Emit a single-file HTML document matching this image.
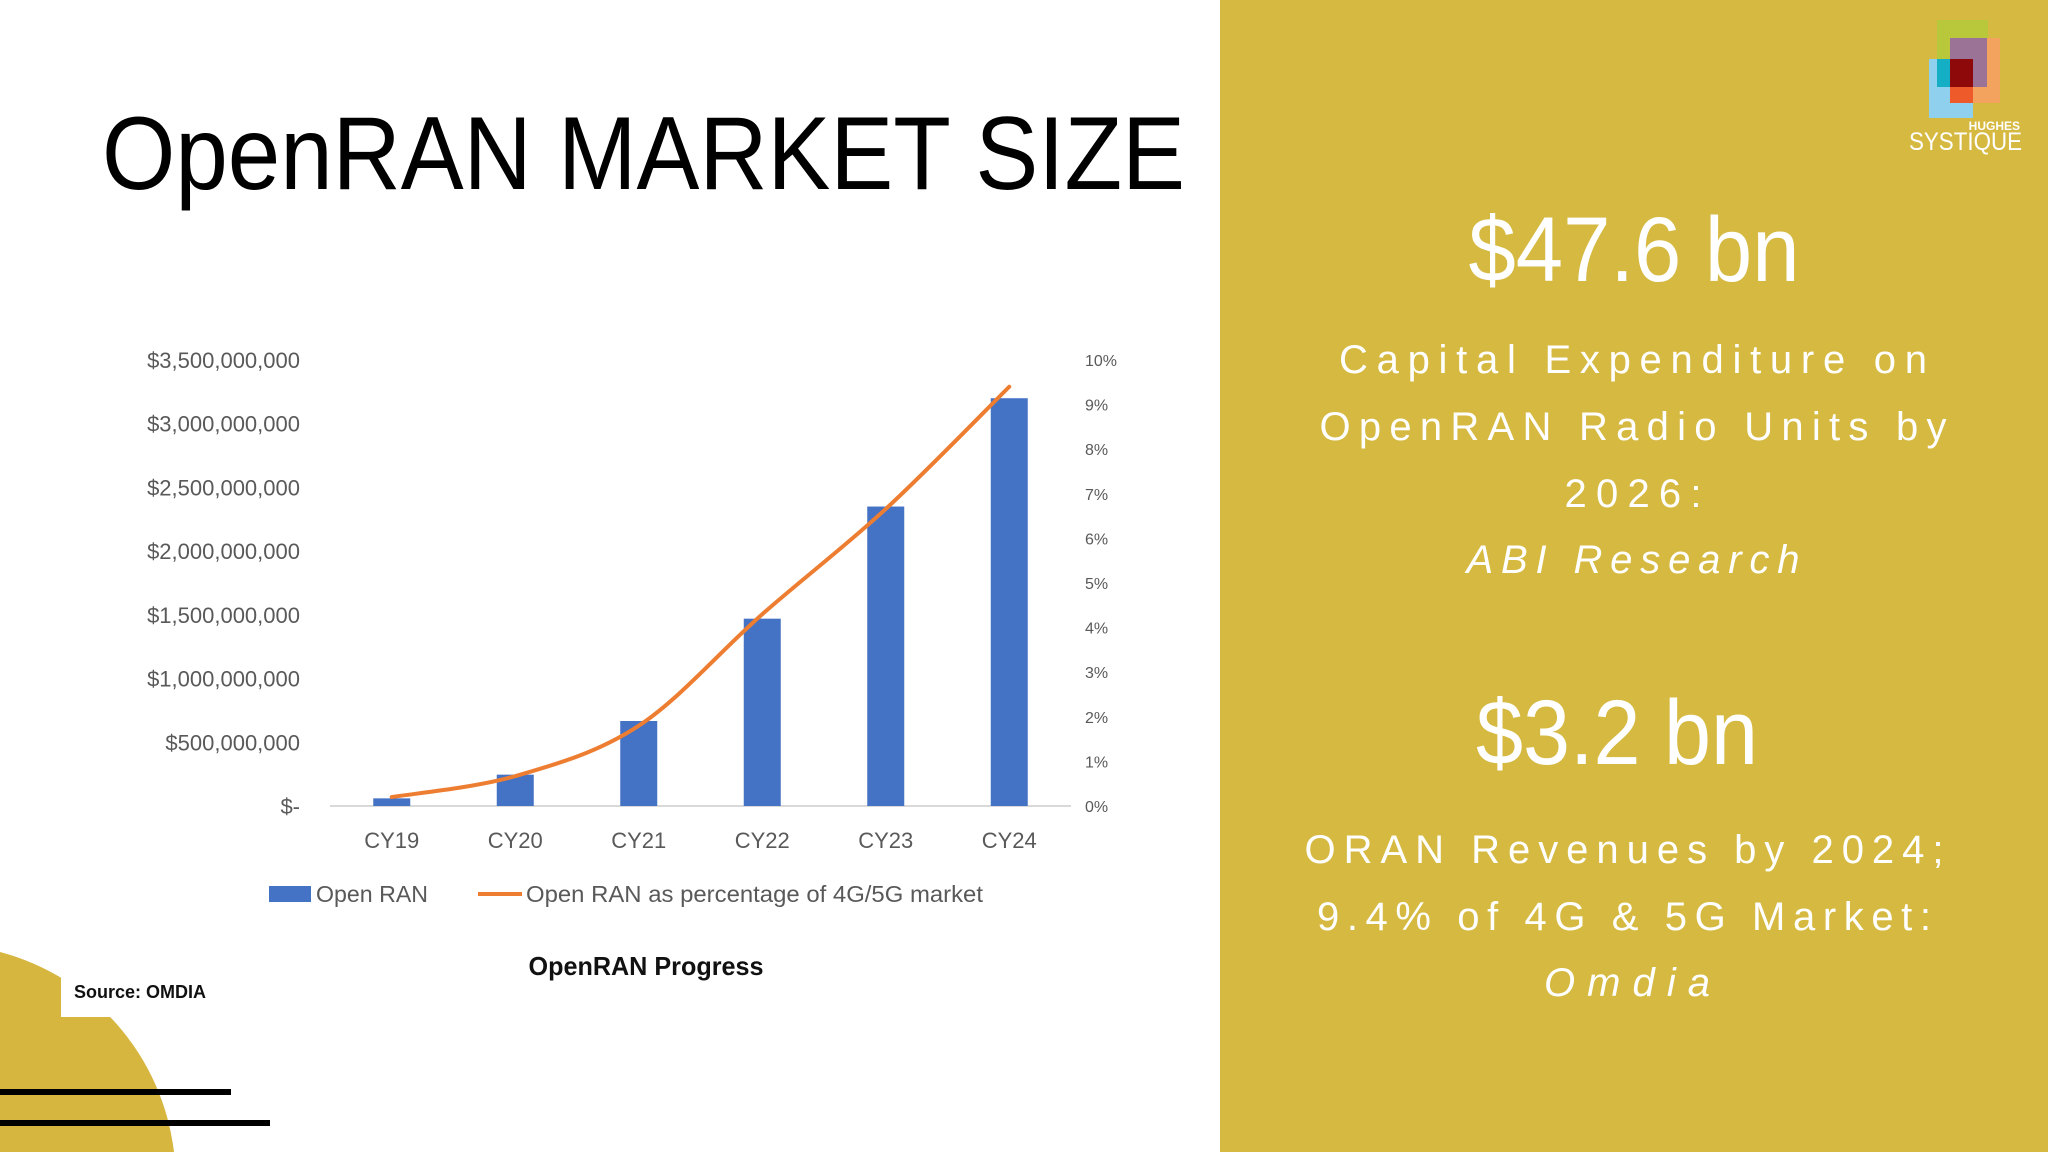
<!DOCTYPE html>
<html><head><meta charset="utf-8"><title>OpenRAN Market Size</title>
<style>
html,body{margin:0;padding:0;background:#fff;width:2048px;height:1152px;overflow:hidden;}
svg{display:block;font-family:"Liberation Sans",sans-serif;}
</style></head>
<body>
<svg id="slide" width="2048" height="1152" viewBox="0 0 2048 1152" xmlns="http://www.w3.org/2000/svg">
  <rect x="0" y="0" width="2048" height="1152" fill="#ffffff"/>
  <text x="102" y="189" font-size="104" fill="#000" textLength="1083" lengthAdjust="spacingAndGlyphs">OpenRAN MARKET SIZE</text>

  <g>
    <path d="M0,952 A236,236 0 0 1 174,1152 L0,1152 Z" fill="#D6B63F"/>
    <rect x="61" y="910" width="200" height="107" fill="#fff"/>
    <text x="74" y="998" font-size="18" font-weight="bold" fill="#111">Source: OMDIA</text>
    <rect x="0" y="1089" width="231" height="6" fill="#000"/>
    <rect x="0" y="1120" width="270" height="6" fill="#000"/>
  </g>

  <g id="chart"></g>

  <rect x="1220" y="0" width="828" height="1152" fill="#D6B940"/>
  <g>
    <rect x="1937" y="20" width="51" height="47" fill="#B9C83A"/>
    <rect x="1929" y="59" width="44" height="59" fill="#8FD0EE"/>
    <rect x="1973" y="38" width="27" height="65" fill="#F4A35E"/>
    <rect x="1950" y="38" width="37" height="49" fill="#9B7396"/>
    <rect x="1937" y="59" width="13" height="28" fill="#14AFC4"/>
    <rect x="1950" y="59" width="23" height="28" fill="#8E0A0A"/>
    <rect x="1950" y="87" width="23" height="16" fill="#EE5A2A"/>
    <text x="2020" y="130" font-size="12" font-weight="bold" fill="#fff" text-anchor="end">HUGHES</text>
    <text x="1909" y="150" font-size="25" fill="#fff" textLength="113" lengthAdjust="spacingAndGlyphs">SYSTIQUE</text>
  </g>
  <g fill="#fff" text-anchor="middle">
    <text x="1634" y="281" font-size="92" textLength="331" lengthAdjust="spacingAndGlyphs">$47.6 bn</text>
    <text x="1633" y="373" font-size="40" textLength="588" lengthAdjust="spacing">Capital Expenditure on</text>
    <text x="1633" y="440" font-size="40" textLength="627" lengthAdjust="spacing">OpenRAN Radio Units by</text>
    <text x="1633" y="507" font-size="40" textLength="137" lengthAdjust="spacing">2026:</text>
    <text x="1633" y="573" font-size="40" font-style="italic" textLength="333" lengthAdjust="spacing">ABI Research</text>
    <text x="1617" y="764" font-size="92" textLength="282" lengthAdjust="spacingAndGlyphs">$3.2 bn</text>
    <text x="1624" y="863" font-size="40" textLength="639" lengthAdjust="spacing">ORAN Revenues by 2024;</text>
    <text x="1624" y="930" font-size="40" textLength="614" lengthAdjust="spacing">9.4% of 4G &amp; 5G Market:</text>
    <text x="1627" y="996" font-size="40" font-style="italic" textLength="166" lengthAdjust="spacing">Omdia</text>
  </g>
</svg>
<script>
const categories = ["CY19","CY20","CY21","CY22","CY23","CY24"];
const revenue = [60e6, 246e6, 667e6, 1470e6, 2350e6, 3200e6];
const percentShare = [0.2, 0.67, 1.8, 4.3, 6.66, 9.4];
const leftTicks = [0, 500e6, 1000e6, 1500e6, 2000e6, 2500e6, 3000e6, 3500e6];
const leftTickLabels = ["$-","$500,000,000","$1,000,000,000","$1,500,000,000","$2,000,000,000","$2,500,000,000","$3,000,000,000","$3,500,000,000"];
const rightTicks = [0,1,2,3,4,5,6,7,8,9,10];

const NS = "http://www.w3.org/2000/svg";
const g = document.getElementById('chart');
const X0 = 330, X1 = 1071, Y0 = 806, Y1 = 360;
const yL = v => Y0 - (v / 3500e6) * (Y0 - Y1);
const yR = v => Y0 - (v / 10) * (Y0 - Y1);
const band = (X1 - X0) / categories.length;
const xC = i => X0 + band * (i + 0.5);
function mk(tag, attrs, txt) {
  const e = document.createElementNS(NS, tag);
  for (const k in attrs) e.setAttribute(k, attrs[k]);
  if (txt !== undefined) e.textContent = txt;
  g.appendChild(e);
  return e;
}
let e;
e = mk('line', {x1: X0, x2: X1, y1: Y0, y2: Y0, stroke: '#d9d9d9', 'stroke-width': 2});


leftTicks.forEach((t, i) => {
  e = mk('text', {x: 300, y: yL(t) + 8, 'font-size': 22, fill: '#595959', 'text-anchor': 'end'}, leftTickLabels[i]);
  
  
});
rightTicks.forEach(t => {
  e = mk('text', {x: 1085, y: yR(t) + 6, 'font-size': 16, fill: '#595959'}, t + '%');
  
  
});
categories.forEach((c, i) => {
  e = mk('rect', {x: xC(i) - 18.5, y: yL(revenue[i]), width: 37, height: Y0 - yL(revenue[i]), fill: '#4472C4'});
  
  
  e = mk('text', {x: xC(i), y: 848, 'font-size': 22, fill: '#595959', 'text-anchor': 'middle'}, c);
  
  
});
const pts = percentShare.map((v, i) => [xC(i), yR(v)]);
let d = 'M' + pts[0][0] + ',' + pts[0][1];
for (let i = 0; i < pts.length - 1; i++) {
  const p0 = pts[Math.max(0, i - 1)], p1 = pts[i], p2 = pts[i + 1], p3 = pts[Math.min(pts.length - 1, i + 2)];
  const c1 = [p1[0] + (p2[0] - p0[0]) / 6, p1[1] + (p2[1] - p0[1]) / 6];
  const c2 = [p2[0] - (p3[0] - p1[0]) / 6, p2[1] - (p3[1] - p1[1]) / 6];
  d += ' C' + c1 + ' ' + c2 + ' ' + p2;
}
e = mk('path', {d: d, fill: 'none', stroke: '#ED7D31', 'stroke-width': 4, 'stroke-linecap': 'round'});


e = mk('rect', {x: 269, y: 886, width: 42, height: 16, fill: '#4472C4'});


e = mk('text', {x: 316, y: 902, 'font-size': 23, fill: '#595959', textLength: 112, lengthAdjust: 'spacingAndGlyphs'}, 'Open RAN');


e = mk('line', {x1: 478, x2: 522, y1: 894, y2: 894, stroke: '#ED7D31', 'stroke-width': 4});


e = mk('text', {x: 526, y: 902, 'font-size': 23, fill: '#595959', textLength: 457, lengthAdjust: 'spacingAndGlyphs'}, 'Open RAN as percentage of 4G/5G market');


e = mk('text', {x: 646, y: 975, 'font-size': 26, 'font-weight': 'bold', fill: '#111', 'text-anchor': 'middle', textLength: 235, lengthAdjust: 'spacingAndGlyphs'}, 'OpenRAN Progress');


</script>
</body></html>
